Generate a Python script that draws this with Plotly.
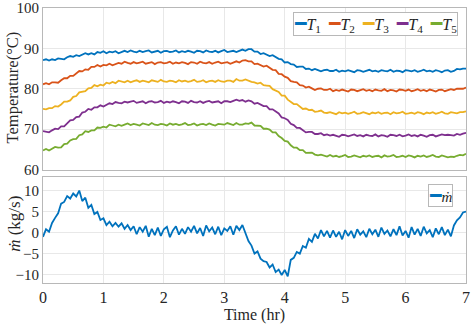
import plotly.graph_objects as go

TIME_STEP = 0.05
time_hr = [round(i * TIME_STEP, 2) for i in range(141)]

T1 = [87.1,87.3,87.0,87.3,87.1,87.5,87.4,87.3,87.8,88.1,
      87.9,88.3,88.1,88.4,88.8,88.5,88.8,88.5,89.1,88.9,
      89.3,88.8,89.2,89.0,89.3,88.8,89.2,89.4,89.1,89.5,
      89.2,89.0,89.4,89.1,89.3,89.5,89.0,89.2,89.4,88.9,
      89.3,89.4,89.1,89.2,89.5,89.0,89.3,89.1,89.4,89.2,
      88.9,89.4,89.3,89.0,89.5,89.2,89.1,89.4,89.0,89.3,
      89.6,89.1,89.3,89.4,89.1,89.5,89.7,89.4,89.8,89.8,
      89.2,89.2,88.6,88.8,88.5,88.1,88.3,87.8,87.4,87.3,
      86.5,86.6,86.1,86.0,85.4,85.5,85.5,84.9,85.0,84.6,
      84.9,84.6,84.3,84.6,84.7,84.4,84.4,84.7,84.2,84.5,
      84.3,84.6,84.4,84.1,84.6,84.5,84.2,84.4,84.7,84.3,
      84.5,84.2,84.6,84.4,84.3,84.7,84.2,84.5,84.4,84.1,
      84.6,84.5,84.3,84.6,84.2,84.4,84.7,84.3,84.5,84.2,
      84.6,84.4,84.1,84.5,84.6,84.2,84.4,84.9,84.8,85.0,
      85.0]

T2 = [81.1,81.4,81.1,81.6,81.6,81.5,82.1,82.6,82.6,83.2,
      83.2,83.8,84.4,84.3,84.8,84.7,85.4,85.4,85.9,85.5,
      85.9,85.8,86.2,85.8,86.2,86.4,86.2,86.7,86.4,86.2,
      86.6,86.3,86.5,86.7,86.2,86.4,86.6,86.1,86.5,86.6,
      86.3,86.4,86.7,86.2,86.5,86.3,86.6,86.4,86.1,86.6,
      86.5,86.2,86.7,86.4,86.3,86.6,86.2,86.5,86.7,86.3,
      86.5,86.6,86.2,86.5,86.8,86.5,87.0,87.1,86.8,86.8,
      86.1,86.2,85.9,85.5,85.7,85.2,84.7,84.6,83.7,83.6,
      83.0,82.7,81.9,81.7,81.6,80.9,80.8,80.3,80.5,80.1,
      79.7,80.0,80.1,79.7,79.7,80.0,79.4,79.7,79.5,79.8,
      79.6,79.3,79.8,79.7,79.4,79.6,79.9,79.5,79.7,79.4,
      79.8,79.6,79.5,79.9,79.4,79.7,79.6,79.3,79.8,79.7,
      79.5,79.8,79.4,79.6,79.9,79.5,79.7,79.4,79.8,79.6,
      79.3,79.7,79.8,79.4,79.6,79.9,79.7,80.0,80.0,80.0,
      80.3]

T3 = [75.0,74.9,75.2,75.2,75.7,75.6,76.1,76.8,76.8,77.1,
      78.0,78.2,79.1,79.3,79.4,80.1,80.2,80.9,80.6,81.0,
      80.8,81.5,81.3,81.7,81.4,82.0,81.8,81.6,82.0,81.6,
      81.9,82.1,81.7,82.0,81.8,81.6,82.1,81.9,81.7,82.2,
      81.8,81.7,82.0,81.9,81.6,82.1,81.8,82.0,81.7,81.9,
      82.2,81.7,81.8,82.1,81.6,81.9,82.0,81.7,82.1,81.8,
      81.7,82.0,82.0,81.7,82.4,82.0,82.0,82.3,81.9,81.7,
      81.6,81.3,81.5,80.9,80.8,80.7,79.9,79.6,79.2,78.3,
      78.3,77.3,76.8,76.2,76.2,75.5,75.0,75.1,74.7,74.8,
      74.3,74.4,74.6,74.1,74.0,74.2,74.0,73.7,74.2,73.9,
      74.1,73.8,74.0,74.3,73.8,73.9,74.2,74.0,73.7,74.1,
      73.9,74.2,73.8,74.0,74.1,73.7,74.2,73.9,74.0,74.3,
      73.8,73.9,74.1,73.8,74.2,74.0,73.7,74.1,73.9,74.2,
      73.8,74.0,74.3,73.9,73.8,74.2,74.0,73.9,74.2,74.2,
      74.4]

T4 = [69.5,69.4,69.2,69.7,70.1,70.0,70.7,70.7,71.4,72.2,
      72.3,73.0,73.1,74.1,74.3,75.0,74.8,75.4,75.4,75.9,
      75.6,76.0,76.4,76.2,76.7,76.5,76.4,76.8,76.6,76.8,
      77.0,76.5,76.7,76.9,76.4,76.8,76.9,76.6,76.7,77.0,
      76.5,76.8,76.6,76.9,76.7,76.4,76.9,76.8,76.5,77.0,
      76.7,76.6,76.9,76.5,76.8,77.0,76.6,76.7,76.9,76.4,
      76.9,76.9,76.7,77.0,77.3,77.0,77.2,76.8,77.1,76.9,
      76.3,76.5,76.0,75.7,75.7,74.9,74.9,74.3,73.9,72.9,
      72.7,72.3,71.3,71.0,70.3,70.3,69.7,69.2,69.3,69.3,
      68.8,68.8,69.0,68.5,68.7,68.4,68.6,68.4,68.1,68.6,
      68.5,68.2,68.4,68.7,68.3,68.5,68.2,68.6,68.4,68.3,
      68.7,68.2,68.5,68.4,68.1,68.6,68.5,68.3,68.6,68.2,
      68.4,68.7,68.3,68.5,68.2,68.6,68.4,68.1,68.5,68.6,
      68.2,68.4,68.7,68.5,68.6,68.5,68.4,68.8,68.6,68.9,
      69.1]

T5 = [64.7,65.1,64.7,65.1,65.6,65.4,65.5,66.3,66.4,67.2,
      67.5,67.6,68.5,68.7,69.5,69.3,69.7,69.7,70.4,70.3,
      70.6,70.4,71.1,70.9,70.7,71.1,70.8,71.1,71.4,71.0,
      71.3,71.1,70.9,71.4,71.2,71.0,71.5,71.1,71.0,71.3,
      71.2,70.9,71.4,71.1,71.3,71.0,71.2,71.5,71.0,71.1,
      71.4,70.9,71.2,71.3,71.0,71.4,71.1,70.9,71.3,71.2,
      71.1,71.5,71.2,71.0,71.5,71.1,71.1,71.4,71.3,71.6,
      70.9,70.8,70.8,70.1,70.1,69.9,69.2,69.2,68.3,67.8,
      67.1,66.9,66.0,65.4,65.4,64.8,64.8,64.1,64.1,64.2,
      63.7,63.5,63.7,63.5,63.2,63.6,63.2,63.4,63.1,63.3,
      63.6,63.1,63.2,63.5,63.3,63.0,63.4,63.2,63.5,63.1,
      63.3,63.4,63.0,63.5,63.2,63.3,63.6,63.1,63.2,63.4,
      63.1,63.5,63.3,63.0,63.4,63.2,63.5,63.1,63.3,63.6,
      63.2,63.1,63.5,63.3,63.0,63.2,63.1,63.4,63.6,63.5,
      63.9]

mdot = [-1.0,0.8,0.2,2.3,3.5,4.6,6.9,7.3,8.7,8.1,
        9.3,8.6,10.0,7.5,8.3,5.9,6.6,4.4,4.9,3.0,
        3.4,1.8,2.6,1.5,2.3,1.4,2.2,0.9,1.8,0.6,
        1.5,-0.4,1.3,0.2,1.6,-1.0,0.9,-0.6,1.2,-0.8,
        0.8,1.4,-1.1,0.5,1.5,-0.5,0.9,-0.3,1.3,0.2,
        1.6,-0.2,1.1,-0.8,1.7,0.3,1.2,-0.4,1.4,-0.6,
        1.0,0.4,1.5,-0.5,1.6,0.6,1.8,0.1,-2.0,-3.1,
        -5.0,-4.5,-6.2,-6.8,-7.0,-8.3,-7.6,-9.4,-8.8,-10.1,
        -8.9,-10.4,-6.5,-6.0,-4.6,-5.0,-3.2,-3.6,-1.5,-2.2,
        -0.3,-1.4,0.6,-0.9,0.4,-1.2,0.5,-1.0,0.2,-1.6,
        0.6,-0.8,0.4,-1.3,0.8,-0.5,0.3,-1.1,0.9,-0.4,
        0.7,-1.0,1.2,-0.3,0.5,-0.9,0.8,-0.6,1.5,-0.7,
        0.4,-1.2,1.3,-0.5,0.9,-0.8,1.4,-0.2,0.6,-1.1,
        1.0,-0.4,1.3,-0.6,0.7,-0.9,1.7,2.9,3.6,4.8,
        5.0]

temp_series = [T1, T2, T3, T4, T5]
temp_subscripts = ["1", "2", "3", "4", "5"]
colors = ["#0072BD", "#D95319", "#EDB120", "#7E2F8E", "#77AC30"]
mdot_color = "#0072BD"

FONT = "Liberation Serif, DejaVu Serif, serif"
GRID = "#e8e8e8"
AXLINE = "#b8b8b8"
TXT = "#262626"

fig = go.Figure()
for vals, sub, c in zip(temp_series, temp_subscripts, colors):
    fig.add_trace(go.Scatter(x=time_hr, y=vals, mode="lines", name="T" + sub,
                             line=dict(color=c, width=1.8), showlegend=False,
                             xaxis="x", yaxis="y"))
fig.add_trace(go.Scatter(x=time_hr, y=mdot, mode="lines", name="mdot",
                         line=dict(color=mdot_color, width=1.8), showlegend=False,
                         xaxis="x2", yaxis="y2"))

common_x = dict(range=[0, 7], dtick=1, showgrid=True, gridcolor=GRID, gridwidth=1,
                showline=True, mirror=True, linecolor=AXLINE, linewidth=1,
                zeroline=False, ticks="", automargin=False,
                tickfont=dict(family=FONT, size=16, color=TXT))
common_y = dict(showgrid=True, gridcolor=GRID, gridwidth=1,
                showline=True, mirror=True, linecolor=AXLINE, linewidth=1,
                zeroline=False, ticks="", automargin=False,
                tickfont=dict(family=FONT, size=15, color=TXT))

DASH = '<span style="color:{c};font-size:19px">━</span>'
leg_top = "".join(
    DASH.format(c=c) + f'<i>T</i><sub>{s}</sub>' + ("  " if k < 4 else "")
    for k, (c, s) in enumerate(zip(colors, temp_subscripts)))
leg_bot = DASH.format(c=mdot_color) + '<i>ṁ</i>'

fig.update_layout(
    width=474, height=324,
    margin=dict(l=43, r=8, t=8, b=41),
    font=dict(family=FONT, size=15, color=TXT),
    paper_bgcolor="white", plot_bgcolor="white",
    xaxis=dict(common_x, domain=[0, 1], anchor="y", showticklabels=False),
    xaxis2=dict(common_x, domain=[0, 1], anchor="y2", showticklabels=True,
                title=dict(text="Time (hr)", standoff=2,
                           font=dict(family=FONT, size=16, color=TXT))),
    yaxis=dict(common_y, domain=[0.4127, 1], range=[60, 100], dtick=10),
    yaxis2=dict(common_y, domain=[0, 0.3865], range=[-12, 13.3],
                tickvals=[-10, -5, 0, 5, 10]),
    annotations=[
        dict(text="Temperature(°C)", xref="paper", yref="paper", x=-0.071, y=0.711,
             xanchor="center", yanchor="middle", textangle=-90, showarrow=False,
             font=dict(family=FONT, size=16.5, color=TXT)),
        dict(text="<i>ṁ</i> (kg/s)", xref="paper", yref="paper", x=-0.068, y=0.216,
             xanchor="center", yanchor="middle", textangle=-90, showarrow=False,
             font=dict(family=FONT, size=17, color=TXT)),
        dict(text=leg_top, xref="paper", yref="paper", x=0.981, y=0.9865,
             xanchor="right", yanchor="top", showarrow=False,
             font=dict(family=FONT, size=16, color=TXT),
             bgcolor="white", bordercolor=AXLINE, borderwidth=1, borderpad=0),
        dict(text=leg_bot, xref="paper", yref="paper", x=0.9686, y=0.36,
             xanchor="right", yanchor="top", showarrow=False,
             font=dict(family=FONT, size=15, color=TXT),
             bgcolor="white", bordercolor=AXLINE, borderwidth=1, borderpad=0),
    ],
)

fig.write_html("out.html")
